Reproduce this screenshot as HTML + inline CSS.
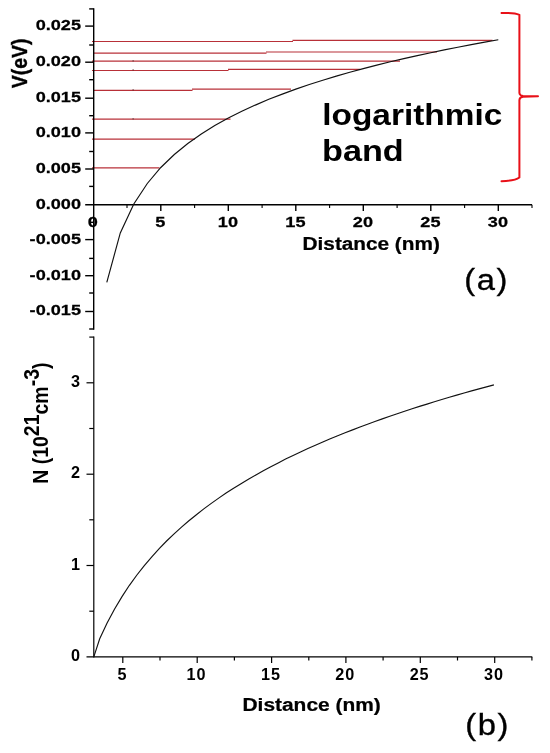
<!DOCTYPE html>
<html><head><meta charset="utf-8"><title>Figure</title>
<style>html,body{margin:0;padding:0;background:#fff}svg{display:block}</style></head>
<body>
<svg width="550" height="753" viewBox="0 0 550 753">
<rect width="550" height="753" fill="#fff"/>
<g stroke="#b83038" stroke-width="1.2" fill="none">
<line x1="92" y1="41.5" x2="293" y2="41.5"/>
<line x1="292.5" y1="40.4" x2="492.5" y2="40.4"/>
<line x1="93" y1="53.1" x2="266.5" y2="53.1"/>
<line x1="266" y1="52.0" x2="437" y2="52.0"/>
<line x1="92" y1="61.2" x2="400" y2="61.2"/>
<line x1="92" y1="70.5" x2="228.5" y2="70.5"/>
<line x1="228" y1="69.4" x2="360" y2="69.4"/>
<line x1="93" y1="90.3" x2="192.5" y2="90.3"/>
<line x1="192" y1="89.2" x2="291" y2="89.2"/>
<line x1="92" y1="119.2" x2="230.5" y2="119.2"/>
<line x1="92" y1="139.2" x2="195" y2="139.2"/>
<line x1="92" y1="167.8" x2="159.5" y2="167.8"/>
</g>
<g stroke="#000" stroke-width="1.4" fill="none">
<line x1="93.7" y1="8.3" x2="93.7" y2="329.7"/>
<line x1="85.2" y1="204.7" x2="532" y2="204.7" stroke-width="1.5"/>
<line x1="85.2" y1="26.1" x2="93.7" y2="26.1"/>
<line x1="85.2" y1="62.2" x2="93.7" y2="62.2"/>
<line x1="85.2" y1="98.2" x2="93.7" y2="98.2"/>
<line x1="85.2" y1="132.9" x2="93.7" y2="132.9"/>
<line x1="85.2" y1="169.0" x2="93.7" y2="169.0"/>
<line x1="85.2" y1="239.6" x2="93.7" y2="239.6"/>
<line x1="85.2" y1="275.7" x2="93.7" y2="275.7"/>
<line x1="85.2" y1="311.5" x2="93.7" y2="311.5"/>
<line x1="89.2" y1="8.9" x2="93.7" y2="8.9"/>
<line x1="89.2" y1="45.0" x2="93.7" y2="45.0"/>
<line x1="89.2" y1="79.7" x2="93.7" y2="79.7"/>
<line x1="89.2" y1="115.7" x2="93.7" y2="115.7"/>
<line x1="89.2" y1="151.5" x2="93.7" y2="151.5"/>
<line x1="89.2" y1="186.4" x2="93.7" y2="186.4"/>
<line x1="89.2" y1="222.3" x2="93.7" y2="222.3"/>
<line x1="89.2" y1="258.4" x2="93.7" y2="258.4"/>
<line x1="89.2" y1="293.0" x2="93.7" y2="293.0"/>
<line x1="89.2" y1="329.0" x2="93.7" y2="329.0"/>
<line x1="160.8" y1="204.7" x2="160.8" y2="210.89999999999998"/>
<line x1="228.3" y1="204.7" x2="228.3" y2="210.89999999999998"/>
<line x1="295.8" y1="204.7" x2="295.8" y2="210.89999999999998"/>
<line x1="363.3" y1="204.7" x2="363.3" y2="210.89999999999998"/>
<line x1="430.8" y1="204.7" x2="430.8" y2="210.89999999999998"/>
<line x1="498.3" y1="204.7" x2="498.3" y2="210.89999999999998"/>
<line x1="127.0" y1="204.7" x2="127.0" y2="207.89999999999998" stroke-width="1.1"/>
<line x1="194.6" y1="204.7" x2="194.6" y2="207.89999999999998" stroke-width="1.1"/>
<line x1="262.1" y1="204.7" x2="262.1" y2="207.89999999999998" stroke-width="1.1"/>
<line x1="329.6" y1="204.7" x2="329.6" y2="207.89999999999998" stroke-width="1.1"/>
<line x1="397.1" y1="204.7" x2="397.1" y2="207.89999999999998" stroke-width="1.1"/>
<line x1="464.6" y1="204.7" x2="464.6" y2="207.89999999999998" stroke-width="1.1"/>
<line x1="532.0" y1="204.7" x2="532.0" y2="207.89999999999998" stroke-width="1.1"/>
</g>
<polyline points="106.8,282.4 120.3,232.9 133.8,204.0 147.3,183.5 160.8,167.5 174.3,154.5 187.8,143.5 201.3,134.0 214.8,125.6 228.3,118.1 241.8,111.3 255.3,105.1 268.8,99.3 282.3,94.1 295.8,89.1 309.3,84.5 322.8,80.2 336.3,76.1 349.8,72.3 363.3,68.6 376.8,65.1 390.3,61.8 403.8,58.6 417.3,55.6 430.8,52.7 444.3,49.9 457.8,47.2 471.3,44.6 484.8,42.1 498.3,39.7" fill="none" stroke="#111" stroke-width="1.15"/>
<rect x="132.6" y="60" width="1" height="1.6" fill="#402020" opacity="0.7"/>
<rect x="132.6" y="69" width="1" height="1.6" fill="#402020" opacity="0.7"/>
<rect x="132.6" y="89" width="1" height="1.6" fill="#402020" opacity="0.7"/>
<rect x="132.6" y="118" width="1" height="1.6" fill="#402020" opacity="0.7"/>
<text transform="translate(81.0 315.4) scale(1.17 1)" font-family="Liberation Sans, Arial, sans-serif" font-weight="bold" font-size="15.5" text-anchor="end" stroke="#000" stroke-width="0.25">-0.015</text>
<text transform="translate(81.0 279.6) scale(1.17 1)" font-family="Liberation Sans, Arial, sans-serif" font-weight="bold" font-size="15.5" text-anchor="end" stroke="#000" stroke-width="0.25">-0.010</text>
<text transform="translate(81.0 243.5) scale(1.17 1)" font-family="Liberation Sans, Arial, sans-serif" font-weight="bold" font-size="15.5" text-anchor="end" stroke="#000" stroke-width="0.25">-0.005</text>
<text transform="translate(81.0 208.6) scale(1.17 1)" font-family="Liberation Sans, Arial, sans-serif" font-weight="bold" font-size="15.5" text-anchor="end" stroke="#000" stroke-width="0.25">0.000</text>
<text transform="translate(81.0 172.9) scale(1.17 1)" font-family="Liberation Sans, Arial, sans-serif" font-weight="bold" font-size="15.5" text-anchor="end" stroke="#000" stroke-width="0.25">0.005</text>
<text transform="translate(81.0 136.8) scale(1.17 1)" font-family="Liberation Sans, Arial, sans-serif" font-weight="bold" font-size="15.5" text-anchor="end" stroke="#000" stroke-width="0.25">0.010</text>
<text transform="translate(81.0 102.1) scale(1.17 1)" font-family="Liberation Sans, Arial, sans-serif" font-weight="bold" font-size="15.5" text-anchor="end" stroke="#000" stroke-width="0.25">0.015</text>
<text transform="translate(81.0 66.1) scale(1.17 1)" font-family="Liberation Sans, Arial, sans-serif" font-weight="bold" font-size="15.5" text-anchor="end" stroke="#000" stroke-width="0.25">0.020</text>
<text transform="translate(81.0 30.0) scale(1.17 1)" font-family="Liberation Sans, Arial, sans-serif" font-weight="bold" font-size="15.5" text-anchor="end" stroke="#000" stroke-width="0.25">0.025</text>
<text transform="translate(92.9 227.3) scale(1.17 1)" font-family="Liberation Sans, Arial, sans-serif" font-weight="bold" font-size="15.5" text-anchor="middle" stroke="#000" stroke-width="0.25">0</text>
<text transform="translate(160.4 227.3) scale(1.17 1)" font-family="Liberation Sans, Arial, sans-serif" font-weight="bold" font-size="15.5" text-anchor="middle" stroke="#000" stroke-width="0.25">5</text>
<text transform="translate(227.9 227.3) scale(1.17 1)" font-family="Liberation Sans, Arial, sans-serif" font-weight="bold" font-size="15.5" text-anchor="middle" stroke="#000" stroke-width="0.25">10</text>
<text transform="translate(295.4 227.3) scale(1.17 1)" font-family="Liberation Sans, Arial, sans-serif" font-weight="bold" font-size="15.5" text-anchor="middle" stroke="#000" stroke-width="0.25">15</text>
<text transform="translate(362.9 227.3) scale(1.17 1)" font-family="Liberation Sans, Arial, sans-serif" font-weight="bold" font-size="15.5" text-anchor="middle" stroke="#000" stroke-width="0.25">20</text>
<text transform="translate(430.4 227.3) scale(1.17 1)" font-family="Liberation Sans, Arial, sans-serif" font-weight="bold" font-size="15.5" text-anchor="middle" stroke="#000" stroke-width="0.25">25</text>
<text transform="translate(497.9 227.3) scale(1.17 1)" font-family="Liberation Sans, Arial, sans-serif" font-weight="bold" font-size="15.5" text-anchor="middle" stroke="#000" stroke-width="0.25">30</text>
<text transform="translate(371.2 250.4) scale(1.135 1)" font-family="Liberation Sans, Arial, sans-serif" font-weight="bold" font-size="18.3" text-anchor="middle" stroke="#000" stroke-width="0.25">Distance (nm)</text>
<text transform="translate(26.5 63.4) scale(1.17 1) rotate(-90)" font-family="Liberation Sans, Arial, sans-serif" font-weight="bold" font-size="19.5" text-anchor="middle" stroke="#000" stroke-width="0.35">V(eV)</text>
<text transform="translate(486.6 289.8) scale(1.09 1)" font-family="Liberation Sans, Arial, sans-serif" font-size="30" text-anchor="middle" letter-spacing="1.4" stroke="#000" stroke-width="0.35">(a)</text>
<text transform="translate(322.3 125.0) scale(1.136 1)" font-family="Liberation Sans, Arial, sans-serif" font-weight="bold" font-size="29.4" text-anchor="start">logarithmic</text>
<text transform="translate(322.0 160.6) scale(1.164 1)" font-family="Liberation Sans, Arial, sans-serif" font-weight="bold" font-size="29.4" text-anchor="start">band</text>
<path d="M501.5 13 C510 12.6 516 13.2 519.4 14.8 L519.4 93 Q519.6 95.5 523 96 L538 96.3 L523 96.8 Q519.6 97.2 519.4 100 L519.4 177.5 C516 180 510 181 501.5 181.2" fill="none" stroke="#e81018" stroke-width="2" stroke-linejoin="round" stroke-linecap="round"/>
<g stroke="#000" stroke-width="1.2" fill="none">
<line x1="93.8" y1="336.5" x2="93.8" y2="657.5"/>
<line x1="86.5" y1="656.9" x2="532.3" y2="656.9"/>
<line x1="86.5" y1="565.5" x2="93.8" y2="565.5"/>
<line x1="86.5" y1="474.2" x2="93.8" y2="474.2"/>
<line x1="86.5" y1="382.8" x2="93.8" y2="382.8"/>
<line x1="89.3" y1="611.2" x2="93.8" y2="611.2"/>
<line x1="89.3" y1="519.8" x2="93.8" y2="519.8"/>
<line x1="89.3" y1="428.5" x2="93.8" y2="428.5"/>
<line x1="89.3" y1="337.1" x2="93.8" y2="337.1"/>
<line x1="122.8" y1="656.9" x2="122.8" y2="663.1"/>
<line x1="197.2" y1="656.9" x2="197.2" y2="663.1"/>
<line x1="271.6" y1="656.9" x2="271.6" y2="663.1"/>
<line x1="345.9" y1="656.9" x2="345.9" y2="663.1"/>
<line x1="420.3" y1="656.9" x2="420.3" y2="663.1"/>
<line x1="494.7" y1="656.9" x2="494.7" y2="663.1"/>
<line x1="160.0" y1="656.9" x2="160.0" y2="660.5"/>
<line x1="234.4" y1="656.9" x2="234.4" y2="660.5"/>
<line x1="308.8" y1="656.9" x2="308.8" y2="660.5"/>
<line x1="383.1" y1="656.9" x2="383.1" y2="660.5"/>
<line x1="457.5" y1="656.9" x2="457.5" y2="660.5"/>
<line x1="531.9" y1="656.9" x2="531.9" y2="660.5"/>
</g>
<polyline points="93.8,656.9 99.7,638.7 107.1,622.9 114.6,609.0 122.0,596.6 129.4,585.3 136.9,575.0 144.3,565.6 151.8,556.8 159.2,548.6 166.6,541.0 174.1,533.9 181.5,527.1 188.9,520.7 196.4,514.7 203.8,508.9 211.3,503.4 218.7,498.1 226.1,493.1 233.6,488.3 241.0,483.7 248.4,479.2 255.9,474.9 263.3,470.8 270.8,466.8 278.2,462.9 285.6,459.1 293.1,455.5 300.5,452.0 307.9,448.5 315.4,445.2 322.8,442.0 330.3,438.8 337.7,435.8 345.1,432.8 352.6,429.9 360.0,427.0 367.5,424.2 374.9,421.5 382.3,418.9 389.8,416.3 397.2,413.7 404.6,411.2 412.1,408.8 419.5,406.4 427.0,404.1 434.4,401.8 441.8,399.5 449.3,397.3 456.7,395.1 464.1,393.0 471.6,390.9 479.0,388.9 486.5,386.9 493.9,384.9" fill="none" stroke="#111" stroke-width="1.15"/>
<text x="79.9" y="661.1" font-family="Liberation Sans, Arial, sans-serif" font-weight="bold" font-size="16.2" text-anchor="end">0</text>
<text x="79.9" y="569.7" font-family="Liberation Sans, Arial, sans-serif" font-weight="bold" font-size="16.2" text-anchor="end">1</text>
<text x="79.9" y="478.4" font-family="Liberation Sans, Arial, sans-serif" font-weight="bold" font-size="16.2" text-anchor="end">2</text>
<text x="79.9" y="387.0" font-family="Liberation Sans, Arial, sans-serif" font-weight="bold" font-size="16.2" text-anchor="end">3</text>
<text x="122.1" y="680.2" font-family="Liberation Sans, Arial, sans-serif" font-weight="bold" font-size="16.2" text-anchor="middle">5</text>
<text x="196.5" y="680.2" font-family="Liberation Sans, Arial, sans-serif" font-weight="bold" font-size="16.2" text-anchor="middle" letter-spacing="0.9">10</text>
<text x="270.9" y="680.2" font-family="Liberation Sans, Arial, sans-serif" font-weight="bold" font-size="16.2" text-anchor="middle" letter-spacing="0.9">15</text>
<text x="345.2" y="680.2" font-family="Liberation Sans, Arial, sans-serif" font-weight="bold" font-size="16.2" text-anchor="middle" letter-spacing="0.9">20</text>
<text x="419.6" y="680.2" font-family="Liberation Sans, Arial, sans-serif" font-weight="bold" font-size="16.2" text-anchor="middle" letter-spacing="0.9">25</text>
<text x="494.0" y="680.2" font-family="Liberation Sans, Arial, sans-serif" font-weight="bold" font-size="16.2" text-anchor="middle" letter-spacing="0.9">30</text>
<text transform="translate(311.6 710.9) scale(1.1 1)" font-family="Liberation Sans, Arial, sans-serif" font-weight="bold" font-size="19" text-anchor="middle" stroke="#000" stroke-width="0.25">Distance (nm)</text>
<text transform="translate(48.1 483.8) scale(1.12 1) rotate(-90)" font-family="Liberation Sans, Arial, sans-serif" font-weight="bold" font-size="19.5">N (10<tspan dy="-8">21</tspan><tspan dy="8">cm</tspan><tspan dy="-8">-3</tspan><tspan dy="8">)</tspan></text>
<text transform="translate(487.6 734.8) scale(1.09 1)" font-family="Liberation Sans, Arial, sans-serif" font-size="30" text-anchor="middle" letter-spacing="1.4" stroke="#000" stroke-width="0.35">(b)</text>
</svg>
</body></html>
